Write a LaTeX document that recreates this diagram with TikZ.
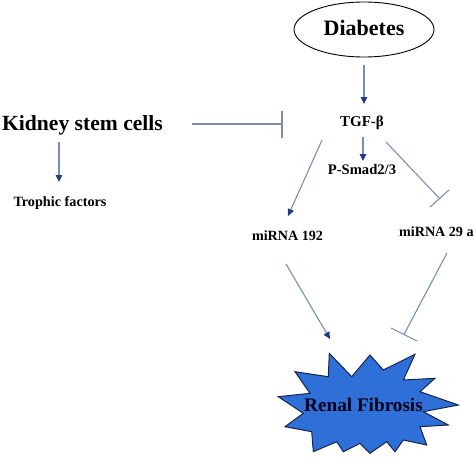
\documentclass[tikz,border=0pt]{standalone}
\usepackage{fontspec}
\setmainfont{Liberation Serif}
\usetikzlibrary{arrows.meta,shapes.geometric}
\definecolor{linec}{HTML}{7A8DB5}
\definecolor{headc}{HTML}{1F3C8C}
\definecolor{starfill}{HTML}{2F6FD8}
\definecolor{starline}{HTML}{14244F}
\tikzset{
  lbl/.style={inner sep=0pt, font=\bfseries, text=black},
  act/.style={draw=linec, line width=1.1pt, -{Triangle[length=7pt,width=6.5pt,color=headc]}},
  inh/.style={draw=linec, line width=1.1pt},
}
\begin{document}
\begin{tikzpicture}[x=1pt,y=-1pt]
\useasboundingbox (0,0) rectangle (474,458);
% nodes
\node[draw=black, line width=0.9pt, ellipse, minimum width=140pt, minimum height=55pt, inner sep=0pt] (diab) at (364,29.5) {};
\node[lbl, font=\bfseries\fontsize{22}{24}\selectfont] (diabt) at (364,28) {Diabetes};
\node[lbl, font=\bfseries\fontsize{15}{17}\selectfont] (tgf) at (362,123) {TGF-β};
\node[lbl, font=\bfseries\fontsize{21.6}{24}\selectfont] (ksc) at (82.5,125) {Kidney stem cells};
\node[lbl, font=\bfseries\fontsize{14.2}{16}\selectfont] (tro) at (60,203) {Trophic factors};
\node[lbl, font=\bfseries\fontsize{14.6}{16}\selectfont] (psm) at (362,170) {P-Smad2/3};
\node[lbl, font=\bfseries\fontsize{14.1}{16}\selectfont] (mi192) at (287.5,236) {miRNA 192};
\node[lbl, font=\bfseries\fontsize{14.1}{16}\selectfont, anchor=west] (mi29) at (399,232) {miRNA 29 a};
% starburst
\draw[fill=starfill, draw=starline, line width=1pt, line join=miter]
 (329.3,353.3) -- (351.7,376.7) -- (370,355) -- (383.3,370) -- (415,354.3) -- (403.3,380)
 -- (435,378.3) -- (420,391.7) -- (458.3,405) -- (423.3,411.7) -- (448.3,425) -- (420,426.7)
 -- (426.7,445) -- (403.3,440) -- (395,451.7) -- (386.7,441.7) -- (370,453.3) -- (360,443.3)
 -- (343.3,451.7) -- (336.7,441.7) -- (313.3,451.7) -- (311.7,431.7) -- (285,426.7) -- (303.3,413.3)
 -- (278.3,396.7) -- (310,393.3) -- (295,371.7) -- (328.3,376.7) -- cycle;
\node[lbl, font=\bfseries\fontsize{19.2}{21}\selectfont, text=black!90!blue] (ren) at (363.5,405) {Renal Fibrosis};
% connector end points
\coordinate (d1) at (364,65);   \coordinate (d2) at (364,104);
\coordinate (k1) at (192,124);  \coordinate (k2) at (282,124);
\coordinate (kb1) at (282,110.5); \coordinate (kb2) at (282,137.5);
\coordinate (k3) at (59,142);   \coordinate (k4) at (59,182);
\coordinate (t1) at (363,137);  \coordinate (t2) at (363,161);
\coordinate (t3) at (322,140);  \coordinate (t4) at (288,216);
\coordinate (t5) at (386,142);  \coordinate (t6) at (439.5,198.5);
\coordinate (tb1) at (430,207); \coordinate (tb2) at (449,190);
\coordinate (m1) at (286,264);  \coordinate (m2) at (330,339);
\coordinate (m3) at (447,253);  \coordinate (m4) at (404,334.5);
\coordinate (mb1) at (391,328); \coordinate (mb2) at (417,341);
% connectors
\draw[act] (d1) -- (d2);
\draw[inh] (k1) -- (k2);
\draw[inh] (kb1) -- (kb2);
\draw[act] (k3) -- (k4);
\draw[act] (t1) -- (t2);
\draw[act] (t3) -- (t4);
\draw[inh] (t5) -- (t6);
\draw[inh] (tb1) -- (tb2);
\draw[act] (m1) -- (m2);
\draw[inh] (m3) -- (m4);
\draw[inh] (mb1) -- (mb2);
\end{tikzpicture}
\end{document}
